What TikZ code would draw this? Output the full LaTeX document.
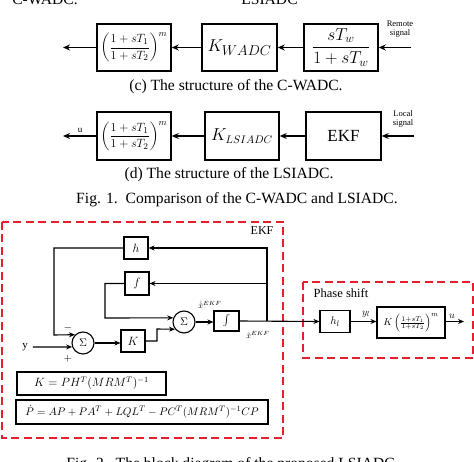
\documentclass[tikz,border=0pt]{standalone}
\usepackage{amsmath}
\usepackage{fontspec}
\setmainfont{Liberation Serif}
\usetikzlibrary{arrows.meta,calc}
\definecolor{rd}{RGB}{228,32,44}
\begin{document}
\begin{tikzpicture}[x=1pt,y=-1pt,
  blk/.style={draw,line width=1.5pt,inner sep=0pt},
  sblk/.style={draw,line width=1.1pt,inner sep=0pt},
  sumc/.style={draw,circle,line width=1.1pt,minimum size=22pt,inner sep=0pt},
  arr/.style={line width=1.6pt,-{Stealth[length=7pt,width=6pt]}},
  sarr/.style={line width=1.1pt,-{Stealth[length=6pt,width=5pt]}},
  redbox/.style={draw=rd,line width=1.6pt,dash pattern=on 8pt off 4.5pt},
  captxt/.style={font=\fontsize{15.6}{17}\selectfont},
  tinytxt/.style={font=\fontsize{8.5}{9}\selectfont,align=center},
  lbl/.style={inner sep=0pt}]
\useasboundingbox (0,0) rectangle (474,462);
\clip (0,0) rectangle (474,462);
% partial captions
\node[captxt,anchor=base] (ta) at (45,5) {C-WADC.};
\node[captxt,anchor=base] (tb) at (269.5,5) {LSIADC};
% (c)
\node[blk,minimum width=74pt,minimum height=47pt] (c1) at (134,47.5) {\fontsize{12.5}{15}\selectfont$\left(\dfrac{1+sT_1}{1+sT_2}\right)^{m}$};
\node[blk,minimum width=75pt,minimum height=47pt] (c2) at (239.5,47.5) {\fontsize{19}{22}\selectfont$K_{WADC}$};
\node[blk,minimum width=74pt,minimum height=47pt] (c3) at (341,47.5) {\fontsize{17}{20}\selectfont$\dfrac{sT_w}{1+sT_w}$};
\coordinate (cin) at (411,47.5);
\coordinate (cout) at (63,47.5);
\node[tinytxt] (rs) at (400,29) {Remote\\signal};
\draw[arr] (cin) -- (c3.east);
\draw[arr] (c3.west) -- (c2.east);
\draw[arr] (c2.west) -- (c1.east);
\draw[arr] (c1.west) -- (cout);
\node[captxt] (capc) at (236,87) {(c) The structure of the C-WADC.};
% (d)
\node[blk,minimum width=74pt,minimum height=48pt] (d1) at (134,136) {\fontsize{12.5}{15}\selectfont$\left(\dfrac{1+sT_1}{1+sT_2}\right)^{m}$};
\node[blk,minimum width=74pt,minimum height=48pt] (d2) at (242,136) {\fontsize{16}{20}\selectfont$K_{LSIADC}$};
\node[blk,minimum width=75pt,minimum height=48pt] (d3) at (343.5,136) {\fontsize{17}{20}\selectfont EKF};
\coordinate (din) at (414,136);
\coordinate (dout) at (63,136);
\node[tinytxt] (ls) at (403,119) {Local\\signal};
\node[tinytxt,font=\fontsize{9}{10}\selectfont] (ul) at (80,130) {u};
\draw[arr] (din) -- (d3.east);
\draw[arr] (d3.west) -- (d2.east);
\draw[arr] (d2.west) -- (d1.east);
\draw[arr] (d1.west) -- (dout);
\node[captxt] (capd) at (229,175) {(d) The structure of the LSIADC.};
\node[captxt] (fig1) at (237,200) {Fig. 1.\enspace Comparison of the C-WADC and LSIADC.};
% Fig 2 frames
\draw[redbox] (2,222) rectangle (283,438);
\draw[redbox] (303,282) rectangle (473,358);
\node[font=\fontsize{12}{14}\selectfont] (ekfl) at (262,231) {EKF};
\node[font=\fontsize{12.5}{14}\selectfont] (psl) at (341,293) {Phase shift};
% EKF internals
\node[sblk,minimum width=24pt,minimum height=22pt] (h) at (136,248) {\fontsize{12}{14}\selectfont$h$};
\node[sblk,minimum width=24pt,minimum height=23pt] (f) at (137,283.5) {\fontsize{12}{14}\selectfont$f$};
\node[sumc] (s2) at (184,322) {\fontsize{11}{13}\selectfont$\Sigma$};
\node[sblk,minimum width=25pt,minimum height=20pt] (int) at (226.5,321) {\fontsize{11}{13}\selectfont$\int$};
\node[sumc] (s1) at (83,343) {\fontsize{11}{13}\selectfont$\Sigma$};
\node[sblk,minimum width=24pt,minimum height=22pt] (K) at (133,341) {\fontsize{12}{14}\selectfont$K$};
\node[lbl,font=\fontsize{11}{12}\selectfont] (yl) at (25,347) {y};
\node[lbl,font=\fontsize{11}{12}\selectfont] (minus) at (68,328) {$-$};
\node[lbl,font=\fontsize{11}{12}\selectfont] (plus) at (68,359) {$+$};
\node[lbl,font=\fontsize{8}{9}\selectfont] (xd) at (210,305) {$\dot{\hat{x}}^{EKF}$};
\node[lbl,font=\fontsize{8}{9}\selectfont] (xh) at (258,335) {$\hat{x}^{EKF}$};
\coordinate (tap) at (267,321);
\coordinate (hl1) at (54,335);
\coordinate (fl1) at (105,318);
\coordinate (kr1) at (157,329);
\draw[sarr] (tap) |- (h.east);
\draw[sarr] (tap |- f.east) -- (f.east);
\draw[sarr] (h.west) -| (hl1) -- (s1.134);
\draw[sarr] (f.west) -| (fl1) -- (s2.159);
\draw[sarr] (yl.east) ++(5,0) -- (s1.200);
\draw[sarr] (s1.east) -- (K.west |- s1.east);
\draw[sarr] (K.east) -| (kr1) -- (s2.219);
\draw[sarr] (s2.east) -- (int.west |- s2.east);
% phase shift
\node[sblk,minimum width=30pt,minimum height=22pt] (hl) at (335,321.5) {\fontsize{11}{13}\selectfont$h_l$};
\node[sblk,minimum width=68pt,minimum height=31pt] (Kl) at (411,322.5) {\fontsize{10}{12}\selectfont$K\left(\frac{1+sT_1}{1+sT_2}\right)^{m}$};
\coordinate (uo) at (464,321.5);
\node[lbl,font=\fontsize{10}{12}\selectfont] (ylab) at (366,314) {$y_l$};
\node[lbl,font=\fontsize{10}{12}\selectfont] (ulab) at (452,316) {$u$};
\draw[sarr] (int.east) -- (hl.west);
\draw[sarr] (hl.east) -- (Kl.west |- hl.east);
\draw[sarr] (Kl.east |- uo) -- (uo);
% formulas
\node[sblk,minimum width=149pt,minimum height=23pt] (kf) at (91.5,383.5) {\fontsize{12}{14}\selectfont$K = PH^T(MRM^T)^{-1}$};
\node[sblk,minimum width=252pt,minimum height=24pt] (pf) at (142,412) {\fontsize{11.3}{13}\selectfont$\dot{P} = AP + PA^T + LQL^T - PC^T(MRM^T)^{-1}CP$};
\node[captxt,anchor=base] (fig2) at (232.5,468) {Fig. 2.\enspace The block diagram of the proposed LSIADC.};
\end{tikzpicture}
\end{document}
